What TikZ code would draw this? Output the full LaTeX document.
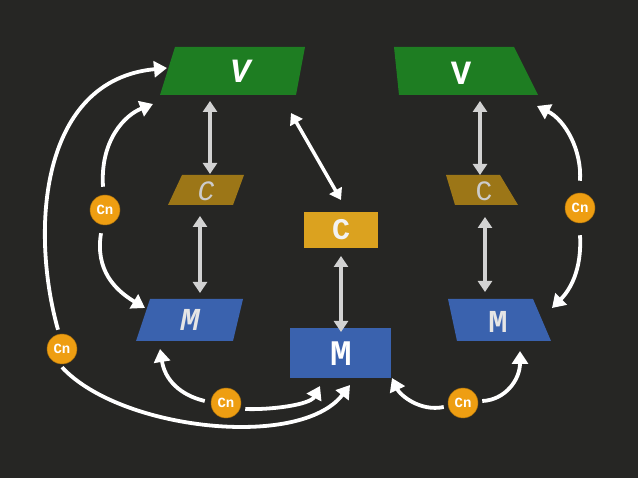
\documentclass[tikz,border=0pt]{standalone}
\usepackage{fontspec}
\setmonofont{Liberation Mono}
\usetikzlibrary{arrows.meta}
\definecolor{bg}{HTML}{262624}
\definecolor{vgreen}{HTML}{1E7D22}
\definecolor{cgold}{HTML}{9C7617}
\definecolor{cgoldb}{HTML}{DBA21F}
\definecolor{mblue}{HTML}{3A62AE}
\definecolor{cnor}{HTML}{EE9E12}
\begin{document}
\begin{tikzpicture}[x=1pt,y=-1pt,
  lbl/.style={inner sep=0},
  cn/.style={circle,fill=cnor,draw=cnor!70!black,line width=0.5pt,minimum size=30pt,inner sep=0,font=\ttfamily\bfseries\fontsize{14}{14}\selectfont,text=white},
  flow/.style={white,line width=3.8pt,-{Triangle[length=13pt,width=16pt]}},
  dbl/.style={gray!35,line width=3.5pt,{Triangle[length=11pt,width=14pt]}-{Triangle[length=11pt,width=14pt]}},
  dblw/.style={white,line width=3.5pt,{Triangle[length=11pt,width=14pt]}-{Triangle[length=11pt,width=14pt]}}]
\fill[bg] (0,0) rectangle (638,478);
\useasboundingbox (0,0) rectangle (638,478);
% shapes
\fill[vgreen] (175,47)--(305,47)--(296,95)--(160,95)--cycle;
\fill[vgreen] (394,47)--(514,47)--(538,95)--(399,95)--cycle;
\fill[cgold] (182,175)--(244,175)--(233,205)--(168,205)--cycle;
\fill[cgold] (446,175)--(500,175)--(518,205)--(455,205)--cycle;
\fill[mblue] (150,299)--(243,299)--(233,341)--(136,341)--cycle;
\fill[mblue] (448,299)--(533,299)--(551,341)--(457,341)--cycle;
\fill[cgoldb] (304,212) rectangle (378,248);
\fill[mblue] (290,328) rectangle (391,378);
% labels
\node[lbl,text=white,font=\ttfamily\bfseries\itshape\fontsize{34}{34}\selectfont] (vl) at (240,71) {V};
\node[lbl,text=white,font=\ttfamily\bfseries\fontsize{34}{34}\selectfont] (vr) at (461,73) {V};
\node[lbl,text=gray!40,font=\ttfamily\itshape\fontsize{28}{28}\selectfont] (cl) at (206,191) {C};
\node[lbl,text=gray!40,font=\ttfamily\fontsize{28}{28}\selectfont] (cr) at (484,191) {C};
\node[lbl,text=white!90!gray,font=\ttfamily\bfseries\fontsize{30}{30}\selectfont] (cc) at (341,230) {C};
\node[lbl,text=gray!20,font=\ttfamily\bfseries\itshape\fontsize{32}{32}\selectfont] (ml) at (190,320) {M};
\node[lbl,text=gray!20,font=\ttfamily\bfseries\fontsize{32}{32}\selectfont] (mr) at (498,322) {M};
\node[lbl,text=white,font=\ttfamily\bfseries\fontsize{36}{36}\selectfont] (mc) at (341,354) {M};
% Cn nodes
\node[cn] (cn1) at (105,210) {Cn};
\node[cn] (cn2) at (580,208) {Cn};
\node[cn] (cn3) at (62,349) {Cn};
\node[cn] (cn4) at (226,403) {Cn};
\node[cn] (cn5) at (463,403) {Cn};
% endpoints
\coordinate (vlT) at (210,101); \coordinate (clT) at (210,174);
\coordinate (clB) at (200,216); \coordinate (mlT) at (200,293);
\coordinate (vlR) at (291,113); \coordinate (ccT) at (341,200);
\coordinate (ccB) at (341,256); \coordinate (mcT) at (341,332);
\coordinate (vrB) at (480,101); \coordinate (crT) at (480,175);
\coordinate (crB) at (485,217); \coordinate (mrT) at (485,292);
\coordinate (vlBL) at (153,104); \coordinate (vlL) at (167,68);
\coordinate (mlL) at (145,308); \coordinate (mlB) at (160,349);
\coordinate (mcBL) at (320,386); \coordinate (mcL) at (350,385);
\coordinate (mcR) at (392,378); \coordinate (mrB) at (520,351);
\coordinate (vrR) at (537,106); \coordinate (mrR) at (552,308);
% double arrows
\draw[dbl] (vlT)--(clT);
\draw[dbl] (clB)--(mlT);
\draw[dblw] (vlR)--(ccT);
\draw[dbl] (ccB)--(mcT);
\draw[dbl] (vrB)--(crT);
\draw[dbl] (crB)--(mrT);
% flows
\draw[flow] ([shift={(-2,-8)}]cn1.north) .. controls (100,140) and (125,115) .. (vlBL);
\draw[flow] ([shift={(-4,8)}]cn1.south) .. controls (95,270) and (115,290) .. (mlL);
\draw[flow] ([shift={(-4,-4)}]cn3.north) .. controls (30,230) and (40,80) .. (vlL);
\draw[flow] ([shift={(0,3)}]cn3.south) .. controls (120,430) and (300,450) .. (mcL);
\draw[flow] ([shift={(-6,-2)}]cn4.west) .. controls (180,395) and (165,380) .. (mlB);
\draw[flow] ([shift={(4,6)}]cn4.east) .. controls (270,410) and (310,405) .. (mcBL);
\draw[flow] ([shift={(-4,4)}]cn5.west) .. controls (420,412) and (400,395) .. (mcR);
\draw[flow] ([shift={(4,-2)}]cn5.east) .. controls (505,400) and (520,380) .. (mrB);
\draw[flow] ([shift={(0,-12)}]cn2.north) .. controls (582,150) and (565,120) .. (vrR);
\draw[flow] ([shift={(0,12)}]cn2.south) .. controls (582,270) and (570,290) .. (mrR);
\end{tikzpicture}
\end{document}
